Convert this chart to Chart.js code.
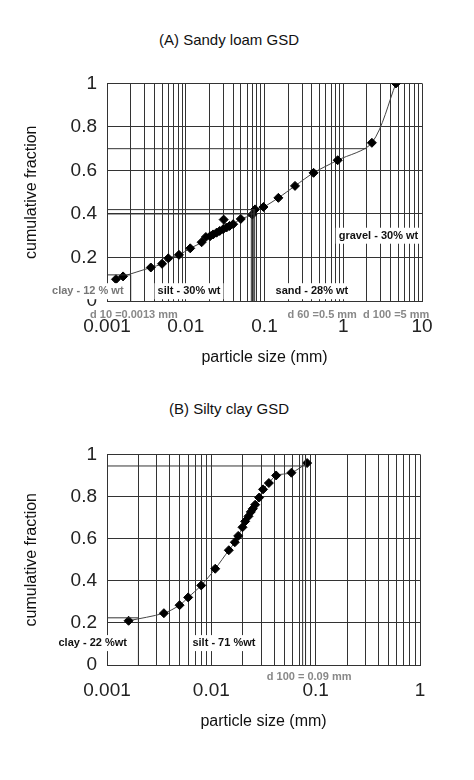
<!DOCTYPE html>
<html><head><meta charset="utf-8">
<script src="https://cdn.jsdelivr.net/npm/chart.js@4/dist/chart.umd.min.js"></script>
<style>
body{margin:0;background:#fff;width:474px;height:780px;position:relative;font-family:"Liberation Sans",Arial,sans-serif}
.w{position:absolute;left:0;width:474px}
.t{position:absolute;width:474px;text-align:center;font-size:15px;color:#111}
</style></head><body>
<div class="t" style="top:31px;left:-8px">(A) Sandy loam GSD</div>
<div class="w" style="top:62px;height:305px"><canvas id="a"></canvas></div>
<div class="t" style="top:400px;left:-8px">(B) Silty clay GSD</div>
<div class="w" style="top:433px;height:298px"><canvas id="b"></canvas></div>
<script>
const sizeA=[0.0013,0.0016,0.0036,0.005,0.006,0.0082,0.0114,0.0159,0.018,0.0204,0.0223,0.0246,0.027,0.0298,0.0303,0.033,0.036,0.040,0.050,0.070,0.076,0.097,0.150,0.244,0.42,0.85,2.31,4.67];
const fracA=[0.10,0.113,0.154,0.171,0.196,0.212,0.242,0.27,0.294,0.298,0.306,0.314,0.322,0.33,0.374,0.338,0.345,0.353,0.377,0.397,0.421,0.432,0.474,0.529,0.589,0.647,0.727,1.0];
const sizeB=[0.00161,0.00351,0.00496,0.0060,0.0080,0.0109,0.0147,0.0168,0.0181,0.0199,0.0211,0.0227,0.0239,0.025,0.0263,0.0287,0.0313,0.0356,0.0418,0.0586,0.0828];
const fracB=[0.21,0.246,0.284,0.321,0.378,0.457,0.545,0.583,0.613,0.654,0.682,0.706,0.727,0.742,0.761,0.795,0.834,0.864,0.9,0.913,0.959];
const xTickLabelsA=['0.001','0.01','0.1','1','10'];
const xTickLabelsB=['0.001','0.01','0.1','1'];
const yTicks=[0,0.2,0.4,0.6,0.8,1];
// [x,y,text,color]
const notesA=[[0.00057,0.045,'clay - 12 % wt','#777'],[0.011,0.045,'silt - 30% wt','#111'],[0.4,0.045,'sand - 28% wt','#111'],[2.8,0.30,'gravel - 30% wt','#111'],
 [0.0022,-0.065,'d 10 =0.0013 mm','#888'],[0.54,-0.065,'d 60 =0.5 mm','#888'],[4.7,-0.065,'d 100 =5 mm','#888']];
const notesB=[[0.00073,0.104,'clay - 22 %wt','#111'],[0.0132,0.104,'silt - 71 %wt','#111'],[0.0865,-0.057,'d 100 = 0.09 mm','#888']];
// reference lines: [x1,y1,x2,y2]
const refA=[[0.001,0.12,0.002,0.12],[0.002,0,0.002,0.12],[0.001,0.40,0.075,0.40],[0.001,0.42,0.075,0.42],[0.068,0,0.068,0.42],[0.072,0,0.072,0.42],[0.075,0,0.075,0.42],[0.001,0.70,2,0.70]];
const refB=[[0.001,0.224,0.002,0.224],[0.002,0,0.002,0.224],[0.001,0.945,0.08,0.945],[0.07,0,0.07,1],[0.075,0,0.075,1],[0.08,0,0.08,1]];

const deco={id:'deco',afterDatasetsDraw(c){const o=c.options.plugins.deco,x=c.scales.x,y=c.scales.y,g=c.ctx;
 g.save();g.strokeStyle='#333';g.lineWidth=1;
 o.ref.forEach(r=>{g.beginPath();g.moveTo(x.getPixelForValue(r[0]),y.getPixelForValue(r[1]));g.lineTo(x.getPixelForValue(r[2]),y.getPixelForValue(r[3]));g.stroke();});
 g.font='bold 11px "Liberation Sans",Arial';g.textAlign='center';g.textBaseline='middle';
 o.notes.forEach(n=>{const px=x.getPixelForValue(n[0]),py=y.getPixelForValue(n[1]);const w=g.measureText(n[2]).width;
  if(n[1]>0){g.fillStyle='#fff';g.fillRect(px-w/2-3,py-8,w+6,16);}g.fillStyle=n[3];g.fillText(n[2],px,py);});
 g.restore();}};

function mk(id,xs,ys,xmax,labels,notes,ref,padR){
 const ticks=[];for(let e=-3;e<Math.log10(xmax);e++)for(let m=1;m<10;m++)ticks.push({value:m*Math.pow(10,e)});ticks.push({value:xmax});
 new Chart(document.getElementById(id),{type:'line',
 data:{datasets:[{data:xs.map((v,i)=>({x:v,y:ys[i]})),borderColor:'#444',borderWidth:1,tension:0.3,pointStyle:'rectRot',pointRadius:4.5,pointBackgroundColor:'#000',pointBorderColor:'#000'}]},
 options:{responsive:true,maintainAspectRatio:false,animation:false,layout:{padding:{left:18,right:padR,top:4,bottom:0}},
  plugins:{legend:{display:false},tooltip:{enabled:false},deco:{notes,ref}},
  scales:{x:{type:'logarithmic',min:0.001,max:xmax,afterBuildTicks:s=>{s.ticks=ticks.map(t=>({value:t.value}));},
    afterFit:s=>{s.height=66;},
    ticks:{autoSkip:false,maxRotation:0,padding:14,color:'#222',font:{size:19,family:'"Liberation Sans",Arial'},callback:v=>{const k=Math.round(Math.log10(v));return Math.abs(Math.log10(v)-k)<1e-6?labels[k+3]:'';}},
    grid:{color:'#333',lineWidth:1,drawTicks:false},border:{color:'#333'},
    title:{display:true,text:'particle size (mm)',color:'#111',font:{size:16,family:'"Liberation Sans",Arial'},padding:{top:0,bottom:0}}},
   y:{min:0,max:1,afterBuildTicks:s=>{s.ticks=yTicks.map(v=>({value:v}));},
    afterFit:s=>{s.width=89;},
    ticks:{padding:10,color:'#222',font:{size:19,family:'"Liberation Sans",Arial'},callback:v=>String(v)},
    grid:{color:'#333',lineWidth:1,drawTicks:false},border:{color:'#333'},
    title:{display:true,text:'cumulative fraction',color:'#111',font:{size:16,family:'"Liberation Sans",Arial'},padding:{bottom:4}}}}},
 plugins:[deco]});}
mk('a',sizeA,fracA,10,xTickLabelsA,notesA,refA,52);
mk('b',sizeB,fracB,1,xTickLabelsB,notesB,refB,54);
</script></body></html>
